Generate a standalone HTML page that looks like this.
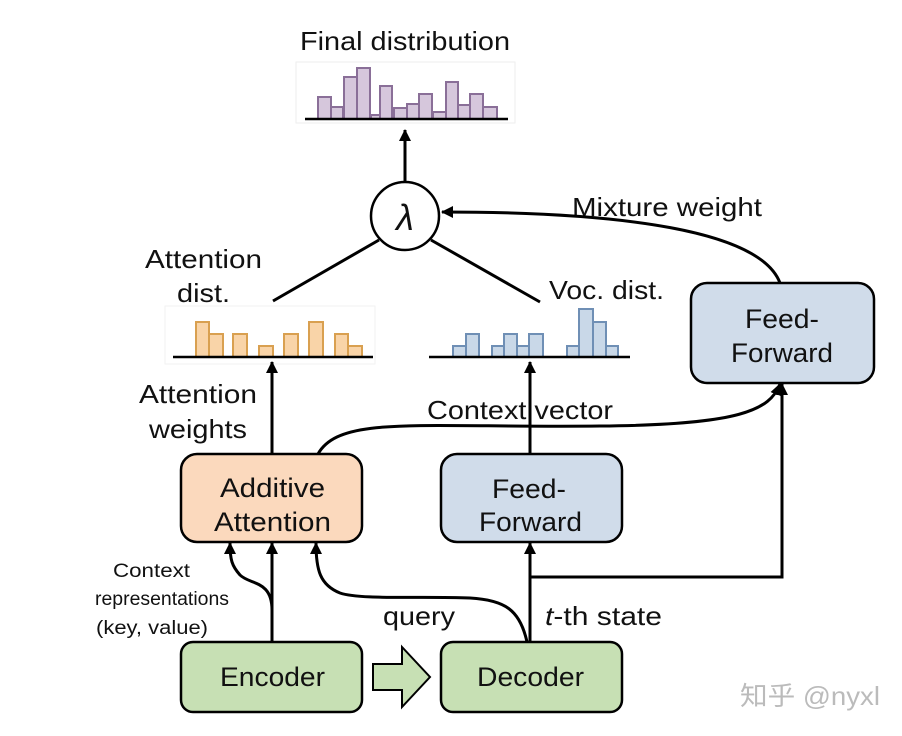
<!DOCTYPE html>
<html><head><meta charset="utf-8"><style>
html,body{margin:0;padding:0;background:#fff}
svg{display:block}
text{font-family:"Liberation Sans","Noto Sans CJK SC",sans-serif;fill:#111}
</style></head><body>
<svg width="902" height="736" viewBox="0 0 902 736" xmlns="http://www.w3.org/2000/svg">
<defs>
<marker id="a" markerWidth="14" markerHeight="14" refX="11" refY="6" orient="auto" markerUnits="userSpaceOnUse">
<path d="M0,0 L12,6 L0,12 Z" fill="#000"/></marker>
</defs>
<text x="300" y="50" font-size="26" textLength="210" lengthAdjust="spacingAndGlyphs">Final distribution</text>
<rect x="296" y="62" width="219" height="61" fill="none" stroke="#eee"/>
<g fill="#d6c7dc" stroke="#8a6f98" stroke-width="2">
<rect x="318" y="97" width="13" height="22"/><rect x="331" y="107" width="12" height="12"/>
<rect x="344" y="77" width="13" height="42"/><rect x="357" y="68" width="13" height="51"/>
<rect x="371" y="115" width="11" height="4"/><rect x="380" y="86" width="12" height="33"/>
<rect x="394" y="108" width="13" height="11"/><rect x="407" y="104" width="12" height="15"/>
<rect x="419" y="94" width="13" height="25"/><rect x="433" y="112" width="13" height="7"/>
<rect x="446" y="82" width="12" height="37"/><rect x="458" y="105" width="12" height="14"/>
<rect x="470" y="94" width="13" height="25"/><rect x="483" y="107" width="14" height="12"/>
</g>
<line x1="305" y1="119" x2="508" y2="119" stroke="#000" stroke-width="2.5"/>
<line x1="405" y1="182" x2="405" y2="130" stroke="#000" stroke-width="3" marker-end="url(#a)"/>
<circle cx="405" cy="216" r="34" fill="#fff" stroke="#000" stroke-width="2.5"/>
<text x="405" y="230" font-size="36" font-style="italic" text-anchor="middle" font-family="Liberation Serif">λ</text>
<line x1="379" y1="240" x2="273" y2="301" stroke="#000" stroke-width="3"/>
<line x1="431" y1="240" x2="540" y2="302" stroke="#000" stroke-width="3"/>
<text x="145" y="268" font-size="26" textLength="117" lengthAdjust="spacingAndGlyphs">Attention</text>
<text x="177" y="302" font-size="26" textLength="53" lengthAdjust="spacingAndGlyphs">dist.</text>
<rect x="165" y="306" width="210" height="58" fill="none" stroke="#f2f2f2"/>
<g fill="#f9d4a8" stroke="#d9a050" stroke-width="2">
<rect x="196" y="322" width="13" height="35"/><rect x="209" y="334" width="14" height="23"/>
<rect x="233" y="334" width="14" height="23"/><rect x="259" y="346" width="14" height="11"/>
<rect x="284" y="334" width="14" height="23"/><rect x="309" y="322" width="14" height="35"/>
<rect x="335" y="334" width="13" height="23"/><rect x="348" y="346" width="14" height="11"/>
</g>
<line x1="173" y1="357" x2="373" y2="357" stroke="#000" stroke-width="2.5"/>
<text x="549" y="299" font-size="26" textLength="115" lengthAdjust="spacingAndGlyphs">Voc. dist.</text>
<g fill="#c9d8e8" stroke="#6f8fb5" stroke-width="2">
<rect x="453" y="346" width="13" height="11"/><rect x="466" y="334" width="13" height="23"/>
<rect x="492" y="346" width="12" height="11"/><rect x="504" y="334" width="13" height="23"/>
<rect x="517" y="346" width="12" height="11"/><rect x="529" y="334" width="14" height="23"/>
<rect x="567" y="346" width="12" height="11"/><rect x="579" y="309" width="14" height="48"/>
<rect x="593" y="322" width="13" height="35"/><rect x="606" y="346" width="12" height="11"/>
</g>
<line x1="429" y1="357" x2="630" y2="357" stroke="#000" stroke-width="2.5"/>
<text x="572" y="216" font-size="26" textLength="190" lengthAdjust="spacingAndGlyphs">Mixture weight</text>
<path d="M780,283 C760,230 620,212 442,212" fill="none" stroke="#000" stroke-width="3" marker-end="url(#a)"/>
<rect x="691" y="283" width="183" height="100" rx="16" fill="#d0dcea" stroke="#000" stroke-width="2.5"/>
<text x="745" y="328" font-size="27" textLength="74" lengthAdjust="spacingAndGlyphs">Feed-</text>
<text x="731" y="362" font-size="27" textLength="102" lengthAdjust="spacingAndGlyphs">Forward</text>
<text x="139" y="403" font-size="26" textLength="118" lengthAdjust="spacingAndGlyphs">Attention</text>
<text x="149" y="438" font-size="26" textLength="98" lengthAdjust="spacingAndGlyphs">weights</text>
<line x1="272" y1="454" x2="272" y2="362" stroke="#000" stroke-width="3" marker-end="url(#a)"/>
<line x1="530" y1="454" x2="530" y2="362" stroke="#000" stroke-width="3" marker-end="url(#a)"/>
<text x="427" y="419" font-size="26" textLength="186" lengthAdjust="spacingAndGlyphs">Context vector</text>
<path d="M318,454 C340,415 420,428 600,426 C740,425 770,410 780,384" fill="none" stroke="#000" stroke-width="3" marker-end="url(#a)"/>
<rect x="181" y="454" width="181" height="88" rx="16" fill="#fbd9bd" stroke="#000" stroke-width="2.5"/>
<text x="220" y="497" font-size="27" textLength="105" lengthAdjust="spacingAndGlyphs">Additive</text>
<text x="214" y="531" font-size="27" textLength="117" lengthAdjust="spacingAndGlyphs">Attention</text>
<rect x="441" y="454" width="181" height="88" rx="16" fill="#d0dcea" stroke="#000" stroke-width="2.5"/>
<text x="492" y="498" font-size="27" textLength="74" lengthAdjust="spacingAndGlyphs">Feed-</text>
<text x="479" y="531" font-size="27" textLength="103" lengthAdjust="spacingAndGlyphs">Forward</text>
<line x1="272" y1="642" x2="272" y2="543" stroke="#000" stroke-width="3" marker-end="url(#a)"/>
<path d="M272,642 L272,610 C272,580 250,585 240,575 C232,566 230,560 230,543" fill="none" stroke="#000" stroke-width="3" marker-end="url(#a)"/>
<path d="M527,642 C520,610 505,600 470,598 C420,596 360,600 340,593 C320,585 316,570 316,543" fill="none" stroke="#000" stroke-width="3" marker-end="url(#a)"/>
<line x1="530" y1="642" x2="530" y2="543" stroke="#000" stroke-width="3" marker-end="url(#a)"/>
<path d="M530,577 L782,577 L782,384" fill="none" stroke="#000" stroke-width="3" marker-end="url(#a)"/>
<text x="113" y="577" font-size="19" textLength="77" lengthAdjust="spacingAndGlyphs">Context</text>
<text x="95" y="605" font-size="19" textLength="134" lengthAdjust="spacingAndGlyphs">representations</text>
<text x="96" y="634" font-size="19" textLength="112" lengthAdjust="spacingAndGlyphs">(key, value)</text>
<text x="383" y="625" font-size="26" textLength="72" lengthAdjust="spacingAndGlyphs">query</text>
<text x="545" y="625" font-size="26" textLength="117" lengthAdjust="spacingAndGlyphs"><tspan font-style="italic">t</tspan>-th state</text>
<rect x="181" y="642" width="181" height="70" rx="12" fill="#c7e0b4" stroke="#000" stroke-width="2.5"/>
<text x="220" y="686" font-size="27" textLength="105" lengthAdjust="spacingAndGlyphs">Encoder</text>
<rect x="441" y="642" width="181" height="70" rx="12" fill="#c7e0b4" stroke="#000" stroke-width="2.5"/>
<text x="477" y="686" font-size="27" textLength="107" lengthAdjust="spacingAndGlyphs">Decoder</text>
<path d="M373,664 L402,664 L402,647 L430,677 L402,707 L402,690 L373,690 Z" fill="#c7e0b4" stroke="#000" stroke-width="2"/>
<text x="740" y="705" font-size="26" style="fill:#bbb" textLength="140" lengthAdjust="spacingAndGlyphs">知乎 @nyxl</text>
</svg>
</body></html>
